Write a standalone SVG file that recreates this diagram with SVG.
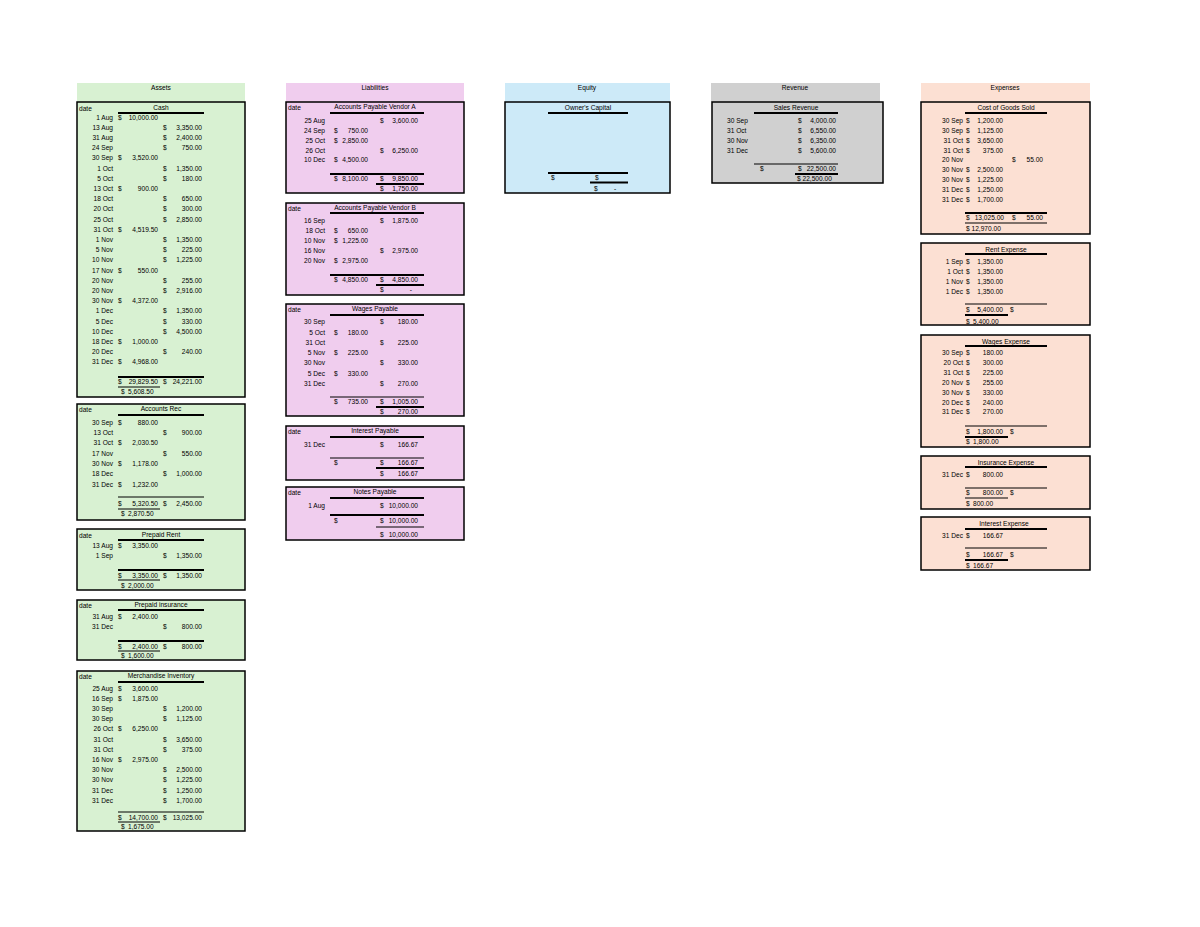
<svg xmlns="http://www.w3.org/2000/svg" width="1200" height="927" viewBox="0 0 1200 927">
<style>
text{font-family:"Liberation Sans",Arial,sans-serif;font-size:6.6px;fill:#000}
.r{text-anchor:end}.c{text-anchor:middle}
.g{fill:#d8f1d2}.p{fill:#f0cdee}.b{fill:#cdeaf8}.y{fill:#d0d0d0}.o{fill:#fce0d3}
.bx{stroke:#000;stroke-width:1.5}
.tk{stroke:#000;stroke-width:2.2}.tn{stroke:#000;stroke-width:1}
</style>
<rect width="1200" height="927" fill="#fff"/>
<g id="headers">
<rect class="g" x="77" y="83" width="168" height="19"/><text class="c" x="161" y="90">Assets</text>
<rect class="p" x="286" y="83" width="178" height="19"/><text class="c" x="375" y="90">Liabilities</text>
<rect class="b" x="505" y="83" width="165" height="19"/><text class="c" x="587" y="90">Equity</text>
<rect class="y" x="711" y="83" width="169" height="19"/><text class="c" x="795" y="90">Revenue</text>
<rect class="o" x="921" y="83" width="169" height="19"/><text class="c" x="1005" y="90">Expenses</text>
</g>
<g id="cash">
<rect class="g bx" x="77" y="102" width="168" height="295"/>
<text x="79" y="111">date</text><text class="c" x="161" y="110">Cash</text>
<line class="tk" x1="118" y1="113" x2="204" y2="113"/>
<text class="r" x="113" y="119.5">1 Aug</text><text x="118" y="119.5">$</text><text class="r" x="158" y="119.5">10,000.00</text>
<text class="r" x="113" y="129.7">13 Aug</text><text x="163" y="129.7">$</text><text class="r" x="202" y="129.7">3,350.00</text>
<text class="r" x="113" y="139.9">31 Aug</text><text x="163" y="139.9">$</text><text class="r" x="202" y="139.9">2,400.00</text>
<text class="r" x="113" y="150.1">24 Sep</text><text x="163" y="150.1">$</text><text class="r" x="202" y="150.1">750.00</text>
<text class="r" x="113" y="160.3">30 Sep</text><text x="118" y="160.3">$</text><text class="r" x="158" y="160.3">3,520.00</text>
<text class="r" x="113" y="170.5">1 Oct</text><text x="163" y="170.5">$</text><text class="r" x="202" y="170.5">1,350.00</text>
<text class="r" x="113" y="180.7">5 Oct</text><text x="163" y="180.7">$</text><text class="r" x="202" y="180.7">180.00</text>
<text class="r" x="113" y="190.9">13 Oct</text><text x="118" y="190.9">$</text><text class="r" x="158" y="190.9">900.00</text>
<text class="r" x="113" y="201.1">18 Oct</text><text x="163" y="201.1">$</text><text class="r" x="202" y="201.1">650.00</text>
<text class="r" x="113" y="211.3">20 Oct</text><text x="163" y="211.3">$</text><text class="r" x="202" y="211.3">300.00</text>
<text class="r" x="113" y="221.5">25 Oct</text><text x="163" y="221.5">$</text><text class="r" x="202" y="221.5">2,850.00</text>
<text class="r" x="113" y="231.7">31 Oct</text><text x="118" y="231.7">$</text><text class="r" x="158" y="231.7">4,519.50</text>
<text class="r" x="113" y="241.9">1 Nov</text><text x="163" y="241.9">$</text><text class="r" x="202" y="241.9">1,350.00</text>
<text class="r" x="113" y="252.1">5 Nov</text><text x="163" y="252.1">$</text><text class="r" x="202" y="252.1">225.00</text>
<text class="r" x="113" y="262.3">10 Nov</text><text x="163" y="262.3">$</text><text class="r" x="202" y="262.3">1,225.00</text>
<text class="r" x="113" y="272.5">17 Nov</text><text x="118" y="272.5">$</text><text class="r" x="158" y="272.5">550.00</text>
<text class="r" x="113" y="282.7">20 Nov</text><text x="163" y="282.7">$</text><text class="r" x="202" y="282.7">255.00</text>
<text class="r" x="113" y="292.9">20 Nov</text><text x="163" y="292.9">$</text><text class="r" x="202" y="292.9">2,916.00</text>
<text class="r" x="113" y="303.1">30 Nov</text><text x="118" y="303.1">$</text><text class="r" x="158" y="303.1">4,372.00</text>
<text class="r" x="113" y="313.3">1 Dec</text><text x="163" y="313.3">$</text><text class="r" x="202" y="313.3">1,350.00</text>
<text class="r" x="113" y="323.5">5 Dec</text><text x="163" y="323.5">$</text><text class="r" x="202" y="323.5">330.00</text>
<text class="r" x="113" y="333.7">10 Dec</text><text x="163" y="333.7">$</text><text class="r" x="202" y="333.7">4,500.00</text>
<text class="r" x="113" y="343.9">18 Dec</text><text x="118" y="343.9">$</text><text class="r" x="158" y="343.9">1,000.00</text>
<text class="r" x="113" y="354.1">20 Dec</text><text x="163" y="354.1">$</text><text class="r" x="202" y="354.1">240.00</text>
<text class="r" x="113" y="364.3">31 Dec</text><text x="118" y="364.3">$</text><text class="r" x="158" y="364.3">4,968.00</text>
<line class="tk" x1="118" y1="377" x2="204" y2="377"/>
<text x="118" y="384">$</text><text class="r" x="158" y="384">29,829.50</text><text x="163" y="384">$</text><text class="r" x="202" y="384">24,221.00</text>
<line class="tn" x1="118" y1="387" x2="160" y2="387"/>
<text x="121" y="394">$</text><text x="128" y="394">5,608.50</text>
</g>
<g id="accounts-rec">
<rect class="g bx" x="77" y="404" width="168" height="116"/>
<text x="79" y="412">date</text><text class="c" x="161" y="411">Accounts Rec</text>
<line class="tk" x1="118" y1="415" x2="204" y2="415"/>
<text class="r" x="113" y="424.5">30 Sep</text><text x="118" y="424.5">$</text><text class="r" x="158" y="424.5">880.00</text>
<text class="r" x="113" y="434.5">13 Oct</text><text x="163" y="434.5">$</text><text class="r" x="202" y="434.5">900.00</text>
<text class="r" x="113" y="445">31 Oct</text><text x="118" y="445">$</text><text class="r" x="158" y="445">2,030.50</text>
<text class="r" x="113" y="455.5">17 Nov</text><text x="163" y="455.5">$</text><text class="r" x="202" y="455.5">550.00</text>
<text class="r" x="113" y="465.5">30 Nov</text><text x="118" y="465.5">$</text><text class="r" x="158" y="465.5">1,178.00</text>
<text class="r" x="113" y="476">18 Dec</text><text x="163" y="476">$</text><text class="r" x="202" y="476">1,000.00</text>
<text class="r" x="113" y="486.5">31 Dec</text><text x="118" y="486.5">$</text><text class="r" x="158" y="486.5">1,232.00</text>
<line class="tn" x1="118" y1="497" x2="204" y2="497"/>
<text x="118" y="506">$</text><text class="r" x="158" y="506">5,320.50</text><text x="163" y="506">$</text><text class="r" x="202" y="506">2,450.00</text>
<line class="tn" x1="118" y1="509" x2="160" y2="509"/>
<text x="121" y="516">$</text><text x="128" y="516">2,870.50</text>
</g>
<g id="prepaid-rent">
<rect class="g bx" x="77" y="529" width="168" height="61"/>
<text x="79" y="538">date</text><text class="c" x="161" y="537">Prepaid Rent</text>
<line class="tk" x1="118" y1="540" x2="204" y2="540"/>
<text class="r" x="113" y="548">13 Aug</text><text x="118" y="548">$</text><text class="r" x="158" y="548">3,350.00</text>
<text class="r" x="113" y="558">1 Sep</text><text x="163" y="558">$</text><text class="r" x="202" y="558">1,350.00</text>
<line class="tk" x1="118" y1="570" x2="204" y2="570"/>
<text x="118" y="577.5">$</text><text class="r" x="158" y="577.5">3,350.00</text><text x="163" y="577.5">$</text><text class="r" x="202" y="577.5">1,350.00</text>
<line class="tn" x1="118" y1="580" x2="160" y2="580"/>
<text x="121" y="587.5">$</text><text x="128" y="587.5">2,000.00</text>
</g>
<g id="prepaid-insurance">
<rect class="g bx" x="77" y="600" width="168" height="60"/>
<text x="79" y="608">date</text><text class="c" x="161" y="607">Prepaid insurance</text>
<line class="tk" x1="118" y1="610" x2="204" y2="610"/>
<text class="r" x="113" y="619">31 Aug</text><text x="118" y="619">$</text><text class="r" x="158" y="619">2,400.00</text>
<text class="r" x="113" y="629">31 Dec</text><text x="163" y="629">$</text><text class="r" x="202" y="629">800.00</text>
<line class="tk" x1="118" y1="641" x2="204" y2="641"/>
<text x="118" y="648.5">$</text><text class="r" x="158" y="648.5">2,400.00</text><text x="163" y="648.5">$</text><text class="r" x="202" y="648.5">800.00</text>
<line class="tn" x1="118" y1="651" x2="160" y2="651"/>
<text x="121" y="658">$</text><text x="128" y="658">1,600.00</text>
</g>
<g id="merch-inventory">
<rect class="g bx" x="77" y="671" width="168" height="160"/>
<text x="79" y="679">date</text><text class="c" x="161" y="678">Merchandise Inventory</text>
<line class="tk" x1="118" y1="682" x2="204" y2="682"/>
<text class="r" x="113" y="690.5">25 Aug</text><text x="118" y="690.5">$</text><text class="r" x="158" y="690.5">3,600.00</text>
<text class="r" x="113" y="700.7">16 Sep</text><text x="118" y="700.7">$</text><text class="r" x="158" y="700.7">1,875.00</text>
<text class="r" x="113" y="710.9">30 Sep</text><text x="163" y="710.9">$</text><text class="r" x="202" y="710.9">1,200.00</text>
<text class="r" x="113" y="721.1">30 Sep</text><text x="163" y="721.1">$</text><text class="r" x="202" y="721.1">1,125.00</text>
<text class="r" x="113" y="731.3">26 Oct</text><text x="118" y="731.3">$</text><text class="r" x="158" y="731.3">6,250.00</text>
<text class="r" x="113" y="741.5">31 Oct</text><text x="163" y="741.5">$</text><text class="r" x="202" y="741.5">3,650.00</text>
<text class="r" x="113" y="751.7">31 Oct</text><text x="163" y="751.7">$</text><text class="r" x="202" y="751.7">375.00</text>
<text class="r" x="113" y="761.9">16 Nov</text><text x="118" y="761.9">$</text><text class="r" x="158" y="761.9">2,975.00</text>
<text class="r" x="113" y="772.1">30 Nov</text><text x="163" y="772.1">$</text><text class="r" x="202" y="772.1">2,500.00</text>
<text class="r" x="113" y="782.3">30 Nov</text><text x="163" y="782.3">$</text><text class="r" x="202" y="782.3">1,225.00</text>
<text class="r" x="113" y="792.5">31 Dec</text><text x="163" y="792.5">$</text><text class="r" x="202" y="792.5">1,250.00</text>
<text class="r" x="113" y="802.7">31 Dec</text><text x="163" y="802.7">$</text><text class="r" x="202" y="802.7">1,700.00</text>
<line class="tn" x1="118" y1="812" x2="204" y2="812"/>
<text x="118" y="819.5">$</text><text class="r" x="158" y="819.5">14,700.00</text><text x="163" y="819.5">$</text><text class="r" x="202" y="819.5">13,025.00</text>
<line class="tn" x1="118" y1="822" x2="160" y2="822"/>
<text x="121" y="829">$</text><text x="128" y="829">1,675.00</text>
</g>
<g id="ap-vendor-a">
<rect class="p bx" x="286" y="102" width="178" height="91"/>
<text x="288" y="110">date</text><text class="c" x="375" y="109">Accounts Payable Vendor A</text>
<line class="tk" x1="330" y1="113" x2="424" y2="113"/>
<text class="r" x="325" y="122.5">25 Aug</text><text x="380" y="122.5">$</text><text class="r" x="418" y="122.5">3,600.00</text>
<text class="r" x="325" y="132.5">24 Sep</text><text x="334" y="132.5">$</text><text class="r" x="368" y="132.5">750.00</text>
<text class="r" x="325" y="142.5">25 Oct</text><text x="334" y="142.5">$</text><text class="r" x="368" y="142.5">2,850.00</text>
<text class="r" x="325" y="152.5">26 Oct</text><text x="380" y="152.5">$</text><text class="r" x="418" y="152.5">6,250.00</text>
<text class="r" x="325" y="161.5">10 Dec</text><text x="334" y="161.5">$</text><text class="r" x="368" y="161.5">4,500.00</text>
<line class="tk" x1="330" y1="174" x2="424" y2="174"/>
<text x="334" y="181">$</text><text class="r" x="368" y="181">8,100.00</text><text x="380" y="181">$</text><text class="r" x="418" y="181">9,850.00</text>
<line class="tk" x1="376" y1="184" x2="424" y2="184"/>
<text x="380" y="191">$</text><text class="r" x="418" y="191">1,750.00</text>
</g>
<g id="ap-vendor-b">
<rect class="p bx" x="286" y="203" width="178" height="92"/>
<text x="288" y="210.5">date</text><text class="c" x="375" y="209.5">Accounts Payable Vendor B</text>
<line class="tk" x1="330" y1="213" x2="424" y2="213"/>
<text class="r" x="325" y="222.5">16 Sep</text><text x="380" y="222.5">$</text><text class="r" x="418" y="222.5">1,875.00</text>
<text class="r" x="325" y="232.5">18 Oct</text><text x="334" y="232.5">$</text><text class="r" x="368" y="232.5">650.00</text>
<text class="r" x="325" y="242.5">10 Nov</text><text x="334" y="242.5">$</text><text class="r" x="368" y="242.5">1,225.00</text>
<text class="r" x="325" y="252.5">16 Nov</text><text x="380" y="252.5">$</text><text class="r" x="418" y="252.5">2,975.00</text>
<text class="r" x="325" y="262.5">20 Nov</text><text x="334" y="262.5">$</text><text class="r" x="368" y="262.5">2,975.00</text>
<line class="tk" x1="330" y1="275" x2="424" y2="275"/>
<text x="334" y="282">$</text><text class="r" x="368" y="282">4,850.00</text><text x="380" y="282">$</text><text class="r" x="418" y="282">4,850.00</text>
<line class="tk" x1="376" y1="285" x2="424" y2="285"/>
<text x="380" y="292">$</text><text class="r" x="412" y="292">-</text>
</g>
<g id="wages-payable">
<rect class="p bx" x="286" y="304" width="178" height="112"/>
<text x="288" y="312">date</text><text class="c" x="375" y="311">Wages Payable</text>
<line class="tk" x1="330" y1="315" x2="424" y2="315"/>
<text class="r" x="325" y="323.5">30 Sep</text><text x="380" y="323.5">$</text><text class="r" x="418" y="323.5">180.00</text>
<text class="r" x="325" y="334.5">5 Oct</text><text x="334" y="334.5">$</text><text class="r" x="368" y="334.5">180.00</text>
<text class="r" x="325" y="344.5">31 Oct</text><text x="380" y="344.5">$</text><text class="r" x="418" y="344.5">225.00</text>
<text class="r" x="325" y="354.5">5 Nov</text><text x="334" y="354.5">$</text><text class="r" x="368" y="354.5">225.00</text>
<text class="r" x="325" y="364.5">30 Nov</text><text x="380" y="364.5">$</text><text class="r" x="418" y="364.5">330.00</text>
<text class="r" x="325" y="375.5">5 Dec</text><text x="334" y="375.5">$</text><text class="r" x="368" y="375.5">330.00</text>
<text class="r" x="325" y="385.5">31 Dec</text><text x="380" y="385.5">$</text><text class="r" x="418" y="385.5">270.00</text>
<line class="tn" x1="330" y1="397" x2="424" y2="397"/>
<text x="334" y="404">$</text><text class="r" x="368" y="404">735.00</text><text x="380" y="404">$</text><text class="r" x="418" y="404">1,005.00</text>
<line class="tk" x1="376" y1="407" x2="424" y2="407"/>
<text x="380" y="414">$</text><text class="r" x="418" y="414">270.00</text>
</g>
<g id="interest-payable">
<rect class="p bx" x="286" y="426" width="178" height="54"/>
<text x="288" y="434">date</text><text class="c" x="375" y="433">Interest Payable</text>
<line class="tk" x1="330" y1="437" x2="424" y2="437"/>
<text class="r" x="325" y="446.5">31 Dec</text><text x="380" y="446.5">$</text><text class="r" x="418" y="446.5">166.67</text>
<line class="tn" x1="330" y1="458" x2="424" y2="458"/>
<text x="334" y="465">$</text><text x="380" y="465">$</text><text class="r" x="418" y="465">166.67</text>
<line class="tk" x1="376" y1="468" x2="424" y2="468"/>
<text x="380" y="476">$</text><text class="r" x="418" y="476">166.67</text>
</g>
<g id="notes-payable">
<rect class="p bx" x="286" y="487" width="178" height="53"/>
<text x="288" y="495">date</text><text class="c" x="375" y="494">Notes Payable</text>
<line class="tk" x1="330" y1="498" x2="424" y2="498"/>
<text class="r" x="325" y="508">1 Aug</text><text x="380" y="508">$</text><text class="r" x="418" y="508">10,000.00</text>
<line class="tk" x1="330" y1="515" x2="424" y2="515"/>
<text x="334" y="523">$</text><text x="380" y="523">$</text><text class="r" x="418" y="523">10,000.00</text>
<line class="tn" x1="376" y1="527" x2="424" y2="527"/>
<text x="380" y="537">$</text><text class="r" x="418" y="537">10,000.00</text>
</g>
<g id="owners-capital">
<rect class="b bx" x="505" y="102" width="165" height="91" stroke-width="1"/>
<text class="c" x="588" y="110">Owner's Capital</text>
<line class="tk" x1="548" y1="113" x2="628" y2="113"/>
<line class="tk" x1="548" y1="173" x2="628" y2="173"/>
<text x="551" y="180">$</text><text x="595" y="180">$</text>
<line class="tk" x1="590" y1="182.5" x2="628" y2="182.5"/>
<text x="594" y="190.5">$</text><text x="614" y="190.5">-</text>
</g>
<g id="sales-revenue">
<rect class="y bx" x="712" y="102" width="171" height="81" stroke-width="2"/>
<text class="c" x="796" y="109.5">Sales Revenue</text>
<line class="tk" x1="754" y1="113" x2="838" y2="113"/>
<text x="727" y="122.5">30 Sep</text><text x="798" y="122.5">$</text><text class="r" x="836" y="122.5">4,000.00</text>
<text x="727" y="132.5">31 Oct</text><text x="798" y="132.5">$</text><text class="r" x="836" y="132.5">6,550.00</text>
<text x="727" y="142.5">30 Nov</text><text x="798" y="142.5">$</text><text class="r" x="836" y="142.5">6,350.00</text>
<text x="727" y="152.5">31 Dec</text><text x="798" y="152.5">$</text><text class="r" x="836" y="152.5">5,600.00</text>
<line class="tn" x1="754" y1="164" x2="838" y2="164"/>
<text x="760" y="171">$</text><text x="798" y="171">$</text><text class="r" x="836" y="171">22,500.00</text>
<line class="tk" x1="795" y1="174" x2="838" y2="174"/>
<text x="797" y="181">$ 22,500.00</text>
</g>
<g id="cogs">
<rect class="o bx" x="921" y="102" width="169" height="132"/>
<text class="c" x="1006" y="109.5">Cost of Goods Sold</text>
<line class="tk" x1="965" y1="113" x2="1047" y2="113"/>
<text class="r" x="963" y="122.5">30 Sep</text><text x="966" y="122.5">$</text><text class="r" x="1003" y="122.5">1,200.00</text>
<text class="r" x="963" y="132.5">30 Sep</text><text x="966" y="132.5">$</text><text class="r" x="1003" y="132.5">1,125.00</text>
<text class="r" x="963" y="142.5">31 Oct</text><text x="966" y="142.5">$</text><text class="r" x="1003" y="142.5">3,650.00</text>
<text class="r" x="963" y="152.5">31 Oct</text><text x="966" y="152.5">$</text><text class="r" x="1003" y="152.5">375.00</text>
<text class="r" x="963" y="161.5">20 Nov</text><text x="1012" y="161.5">$</text><text class="r" x="1043" y="161.5">55.00</text>
<text class="r" x="963" y="171.5">30 Nov</text><text x="966" y="171.5">$</text><text class="r" x="1003" y="171.5">2,500.00</text>
<text class="r" x="963" y="181.5">30 Nov</text><text x="966" y="181.5">$</text><text class="r" x="1003" y="181.5">1,225.00</text>
<text class="r" x="963" y="191.5">31 Dec</text><text x="966" y="191.5">$</text><text class="r" x="1003" y="191.5">1,250.00</text>
<text class="r" x="963" y="201.5">31 Dec</text><text x="966" y="201.5">$</text><text class="r" x="1003" y="201.5">1,700.00</text>
<line class="tk" x1="965" y1="213" x2="1047" y2="213"/>
<text x="966" y="220">$</text><text class="r" x="1004" y="220">13,025.00</text><text x="1012" y="220">$</text><text class="r" x="1043" y="220">55.00</text>
<line class="tn" x1="965" y1="223" x2="1047" y2="223"/>
<text x="966" y="230.5">$ 12,970.00</text>
</g>
<g id="rent-expense">
<rect class="o bx" x="921" y="243" width="169" height="82"/>
<text class="c" x="1006" y="251.5">Rent Expense</text>
<line class="tk" x1="965" y1="254" x2="1047" y2="254"/>
<text class="r" x="963" y="263.5">1 Sep</text><text x="966" y="263.5">$</text><text class="r" x="1003" y="263.5">1,350.00</text>
<text class="r" x="963" y="273.5">1 Oct</text><text x="966" y="273.5">$</text><text class="r" x="1003" y="273.5">1,350.00</text>
<text class="r" x="963" y="283.5">1 Nov</text><text x="966" y="283.5">$</text><text class="r" x="1003" y="283.5">1,350.00</text>
<text class="r" x="963" y="293.5">1 Dec</text><text x="966" y="293.5">$</text><text class="r" x="1003" y="293.5">1,350.00</text>
<line class="tn" x1="965" y1="304" x2="1047" y2="304"/>
<text x="966" y="312">$</text><text class="r" x="1003" y="312">5,400.00</text><text x="1010" y="312">$</text>
<line class="tk" x1="965" y1="315" x2="1008" y2="315"/>
<text x="966" y="324">$</text><text x="973" y="324">5,400.00</text>
</g>
<g id="wages-expense">
<rect class="o bx" x="921" y="335" width="169" height="112"/>
<text class="c" x="1006" y="343.5">Wages Expense</text>
<line class="tk" x1="965" y1="346" x2="1047" y2="346"/>
<text class="r" x="963" y="354.5">30 Sep</text><text x="966" y="354.5">$</text><text class="r" x="1003" y="354.5">180.00</text>
<text class="r" x="963" y="364.5">20 Oct</text><text x="966" y="364.5">$</text><text class="r" x="1003" y="364.5">300.00</text>
<text class="r" x="963" y="374.5">31 Oct</text><text x="966" y="374.5">$</text><text class="r" x="1003" y="374.5">225.00</text>
<text class="r" x="963" y="384.5">20 Nov</text><text x="966" y="384.5">$</text><text class="r" x="1003" y="384.5">255.00</text>
<text class="r" x="963" y="394.5">30 Nov</text><text x="966" y="394.5">$</text><text class="r" x="1003" y="394.5">330.00</text>
<text class="r" x="963" y="404.5">20 Dec</text><text x="966" y="404.5">$</text><text class="r" x="1003" y="404.5">240.00</text>
<text class="r" x="963" y="413.5">31 Dec</text><text x="966" y="413.5">$</text><text class="r" x="1003" y="413.5">270.00</text>
<line class="tn" x1="965" y1="426" x2="1047" y2="426"/>
<text x="966" y="434">$</text><text class="r" x="1003" y="434">1,800.00</text><text x="1010" y="434">$</text>
<line class="tk" x1="965" y1="437" x2="1008" y2="437"/>
<text x="966" y="444">$</text><text x="973" y="444">1,800.00</text>
</g>
<g id="insurance-expense">
<rect class="o bx" x="921" y="456" width="169" height="53"/>
<text class="c" x="1006" y="465">Insurance Expense</text>
<line class="tk" x1="965" y1="467" x2="1047" y2="467"/>
<text class="r" x="963" y="476.5">31 Dec</text><text x="966" y="476.5">$</text><text class="r" x="1003" y="476.5">800.00</text>
<line class="tn" x1="965" y1="488" x2="1047" y2="488"/>
<text x="966" y="495">$</text><text class="r" x="1003" y="495">800.00</text><text x="1010" y="495">$</text>
<line class="tn" x1="965" y1="498" x2="1008" y2="498"/>
<text x="966" y="505.5">$</text><text x="973" y="505.5">800.00</text>
</g>
<g id="interest-expense">
<rect class="o bx" x="921" y="517" width="169" height="53"/>
<text class="c" x="1004" y="526">Interest Expense</text>
<line class="tk" x1="965" y1="529" x2="1047" y2="529" stroke-width="3"/>
<text class="r" x="963" y="537.5">31 Dec</text><text x="966" y="537.5">$</text><text class="r" x="1003" y="537.5">166.67</text>
<line class="tn" x1="965" y1="548" x2="1047" y2="548"/>
<text x="966" y="557">$</text><text class="r" x="1003" y="557">166.67</text><text x="1010" y="557">$</text>
<line class="tk" x1="965" y1="560" x2="1008" y2="560"/>
<text x="966" y="567.5">$</text><text x="973" y="567.5">166.67</text>
</g>
<g id="connectors"/>
</svg>
